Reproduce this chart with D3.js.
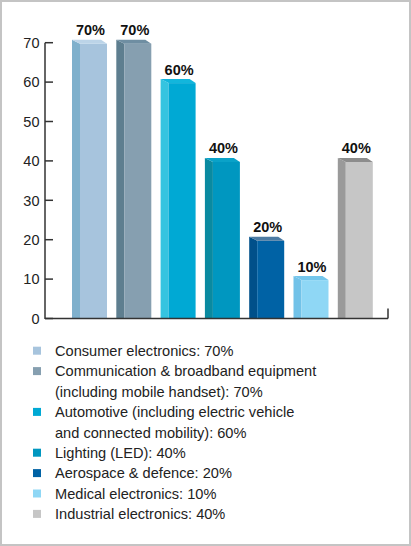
<!DOCTYPE html>
<html><head><meta charset="utf-8">
<script src="https://cdn.jsdelivr.net/npm/d3@7"></script>
<style>
html,body{margin:0;padding:0;background:#fff;}
svg{display:block;font-family:"Liberation Sans",Arial,sans-serif;}
</style></head>
<body><svg id="c" width="411" height="546"></svg>
<script>
const categories = ["Consumer electronics","Communication & broadband equipment","Automotive","Lighting (LED)","Aerospace & defence","Medical electronics","Industrial electronics"];
const values = [70,70,60,40,20,10,40];
const legendLines = [
  ["Consumer electronics: 70%"],
  ["Communication & broadband equipment","(including mobile handset): 70%"],
  ["Automotive (including electric vehicle","and connected mobility): 60%"],
  ["Lighting (LED): 40%"],
  ["Aerospace & defence: 20%"],
  ["Medical electronics: 10%"],
  ["Industrial electronics: 40%"]
];
const yTicks = [0,10,20,30,40,50,60,70];
const frontColors = ["#a7c4dd","#869fb0","#00a9d4","#0097c0","#0062a5","#8fd7f5","#c6c6c6"];
const sideColors  = ["#7fb0cc","#5e7e8f","#35c4e0","#0a8aa0","#00508a","#72c2e8","#9a9a9a"];
const topColors   = ["#bcd4e8","#6f8ea2","#12b6dc","#0aa2c8","#4d7ba3","#74c6ec","#8c8c8c"];

const svg = d3.select("#c");
// frame
svg.append("rect").attr("x",1).attr("y",1).attr("width",409).attr("height",544)
  .attr("fill","#fff").attr("stroke","#c4c4c4").attr("stroke-width",2);

const y = d3.scaleLinear().domain([0,70]).range([318.5,42.7]);
const x = d3.scaleBand().domain(categories).range([62.7,382.1]).paddingInner(0.21).paddingOuter(0.21);
const axisX = 45, axisEnd = 388;
const sideW = 8, depth = 4, topShift = 6;

// bars
const g = svg.append("g");
categories.forEach((c,i)=>{
  const x0 = x(c), x1 = x0 + x.bandwidth();
  const yt = y(values[i]) + 1, yb = y(0);
  g.append("polygon")
    .attr("points",[[x0,yt-depth],[x0+sideW,yt],[x0+sideW,yb],[x0,yb]].map(p=>p.join(",")).join(" "))
    .attr("fill",sideColors[i]);
  g.append("rect").attr("x",x0+sideW).attr("y",yt).attr("width",x1-x0-sideW).attr("height",yb-yt)
    .attr("fill",frontColors[i]);
  g.append("polygon")
    .attr("points",[[x0,yt-depth],[x1-topShift,yt-depth],[x1,yt],[x0+sideW,yt]].map(p=>p.join(",")).join(" "))
    .attr("fill",topColors[i]);
  g.append("text").attr("x",(x0+x1)/2+1).attr("y",yt-depth-4.5)
    .attr("text-anchor","middle").attr("font-weight","bold").attr("font-size",14.5)
    .attr("fill","#111").text(values[i]+"%");
});

// y axis
const ya = svg.append("g");
ya.append("line").attr("x1",axisX).attr("x2",axisX).attr("y1",y(70)).attr("y2",y(0)+0.5)
  .attr("stroke","#333").attr("stroke-width",1.5);
yTicks.forEach(t=>{
  ya.append("line").attr("x1",axisX).attr("x2",axisX+8).attr("y1",y(t)).attr("y2",y(t))
    .attr("stroke","#333").attr("stroke-width",1.5);
  ya.append("text").attr("x",39.5).attr("y",y(t)).attr("dy","0.36em").attr("text-anchor","end")
    .attr("font-size",14.5).attr("fill","#222").text(t);
});
// x axis
svg.append("line").attr("x1",axisX).attr("x2",axisEnd).attr("y1",y(0)).attr("y2",y(0))
  .attr("stroke","#333").attr("stroke-width",1.5);
svg.append("line").attr("x1",axisEnd).attr("x2",axisEnd).attr("y1",y(0)).attr("y2",y(0)-10)
  .attr("stroke","#333").attr("stroke-width",1.5);

// legend
const lg = svg.append("g");
let row = 0;
const rowH = 20.4, ly0 = 350.7;
legendLines.forEach((lines,i)=>{
  const cy = ly0 + row*rowH;
  lg.append("rect").attr("x",33).attr("y",cy-4).attr("width",8).attr("height",8).attr("fill",frontColors[i]);
  lines.forEach((ln,j)=>{
    lg.append("text").attr("x",55).attr("y",ly0+(row+j)*rowH).attr("dy","0.36em")
      .attr("font-size",14.6).attr("fill","#222").text(ln);
  });
  row += lines.length;
});
</script></body></html>
